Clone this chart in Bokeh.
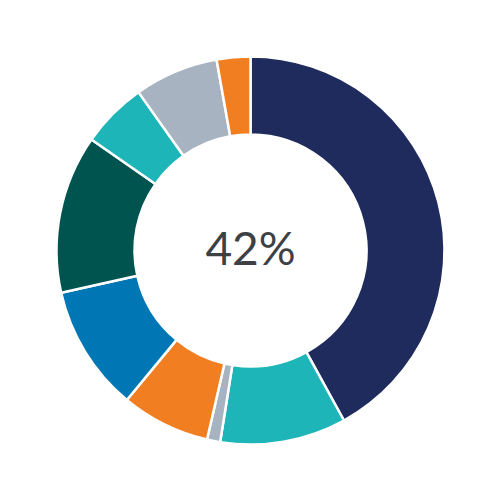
import math
from bokeh.plotting import figure
from bokeh.models import ColumnDataSource
from bokeh.core.properties import value
from bokeh.embed import file_html
from bokeh.resources import INLINE

segments = ["A", "B", "C", "D", "E", "F", "G", "H", "I"]
shares = [42.0, 10.5, 1.1, 7.4, 10.5, 13.2, 5.5, 7.0, 2.8]
colors = ["#1e2b5c", "#1db5b8", "#a8b3c1", "#f17f22", "#0077b5",
          "#00544f", "#1db5b8", "#a8b3c1", "#f17f22"]
center_label = "42%"

total = sum(shares)
starts, ends = [], []
cum = 0.0
for s in shares:
    a0 = math.pi / 2 - 2 * math.pi * cum / total
    cum += s
    a1 = math.pi / 2 - 2 * math.pi * cum / total
    starts.append(a1)
    ends.append(a0)

src = ColumnDataSource(dict(seg=segments, share=shares, color=colors,
                            start=starts, end=ends))

p = figure(width=484, height=484, output_backend="svg", toolbar_location=None,
           x_range=(-250, 234), y_range=(-234, 250), min_border=0)
p.axis.visible = False
p.grid.visible = False
p.outline_line_color = None
p.background_fill_color = "white"

p.annular_wedge(x=0, y=0, inner_radius=116, outer_radius=194,
                start_angle="start", end_angle="end", fill_color="color",
                line_color="white", line_width=2.5, source=src)

p.text(x=[0], y=[3], text=[center_label], text_align="center",
       text_baseline="middle", text_font=value("Lato"), text_font_size="46px",
       text_color="#3d4045")

open("out.html", "w").write(file_html(p, INLINE))
